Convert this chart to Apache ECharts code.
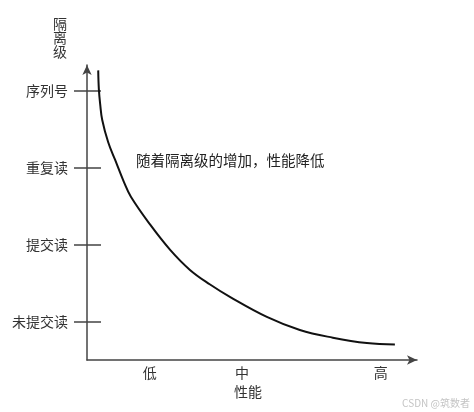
<!DOCTYPE html>
<html>
<head>
<meta charset="utf-8">
<script src="https://cdn.jsdelivr.net/npm/echarts@6/dist/echarts.min.js"></script>
<style>
html,body{margin:0;padding:0;background:#fff;}
#chart{width:474px;height:412px;}
</style>
</head>
<body>
<div id="chart"></div>
<script>
// Isolation levels (y axis), bottom to top
const levelLabels = ['未提交读', '提交读', '重复读', '序列号'];
const levelValues = [1, 2, 3, 4];
// Performance labels (x axis)
const perfLabels = ['低', '中', '高'];
const perfValues = [1.9, 4.7, 8.9];
// Curve: performance (x) vs isolation level (y)
const curveX = [0.34, 0.36, 0.40, 0.46, 0.64, 0.85, 1.12, 1.33, 1.91, 2.52, 3.12, 3.73, 4.33, 5.45, 6.45, 7.45, 8.48, 9.33];
const curveY = [4.26, 4.01, 3.82, 3.62, 3.33, 3.10, 2.81, 2.62, 2.26, 1.93, 1.67, 1.48, 1.32, 1.06, 0.89, 0.79, 0.72, 0.70];
const annotation = '随着隔离级的增加，性能降低';
const watermark = 'CSDN @筑数者';

const FONT = '"Noto Sans CJK SC", "Noto Sans", sans-serif';
const axisColor = '#444';

const chart = echarts.init(document.getElementById('chart'), null, {renderer: 'canvas'});
const option = {
  backgroundColor: '#fff',
  animation: false,
  textStyle: {fontFamily: FONT},
  grid: {left: 87, right: 57, top: 65, bottom: 52, containLabel: false, outerBoundsMode: 'none'},
  xAxis: {
    type: 'value', min: 0, max: 10,
    name: '性能', nameLocation: 'middle', nameGap: 20,
    nameTextStyle: {fontSize: 14, color: '#333', fontFamily: FONT, padding: [0, 8, 0, 0]},
    axisLine: {show: true, symbol: ['none', 'arrow'], symbolSize: [7, 10], lineStyle: {color: axisColor, width: 1.5}},
    axisTick: {show: false},
    splitLine: {show: false},
    axisLabel: {
      customValues: perfValues, margin: 6, fontSize: 14, color: '#333', fontFamily: FONT,
      formatter: v => { const i = perfValues.findIndex(p => Math.abs(p - v) < 1e-6); return i >= 0 ? perfLabels[i] : ''; }
    }
  },
  yAxis: [{
    type: 'value', min: 0.5, max: 4.33,
    name: '隔\n离\n级', nameLocation: 'end', nameGap: 6,
    nameTextStyle: {fontSize: 14, lineHeight: 14, color: '#333', fontFamily: FONT, align: 'right', verticalAlign: 'bottom', padding: [0, 20, 0, 0]},
    axisLine: {show: true, symbol: ['none', 'arrow'], symbolSize: [7, 10], lineStyle: {color: axisColor, width: 1.5}},
    axisTick: {show: true, customValues: levelValues, length: 13, inside: false, lineStyle: {color: axisColor, width: 1.5}},
    splitLine: {show: false},
    axisLabel: {
      customValues: levelValues, margin: 19, fontSize: 14, color: '#333', fontFamily: FONT,
      formatter: v => { const i = levelValues.indexOf(Math.round(v)); return i >= 0 ? levelLabels[i] : ''; }
    }
  }, {
    type: 'value', min: 0.5, max: 4.33, position: 'left', offset: 0,
    axisLine: {show: false},
    axisTick: {show: true, customValues: levelValues, length: 14, inside: true, lineStyle: {color: axisColor, width: 1.5}},
    axisLabel: {show: false},
    splitLine: {show: false}
  }],
  graphic: [{
    type: 'text', left: 136, top: 153,
    style: {text: annotation, fontSize: 14.5, fill: '#222', fontFamily: FONT}
  }, {
    type: 'text', right: 4, bottom: 4,
    style: {text: watermark, fontSize: 10, fill: '#c4c4c4', fontFamily: FONT}
  }],
  series: [{
    type: 'line',
    data: curveX.map((x, i) => [x, curveY[i]]),
    smooth: 0.4,
    showSymbol: false,
    lineStyle: {color: '#111', width: 2},
    silent: true
  }]
};
chart.setOption(option);
</script>
</body>
</html>
